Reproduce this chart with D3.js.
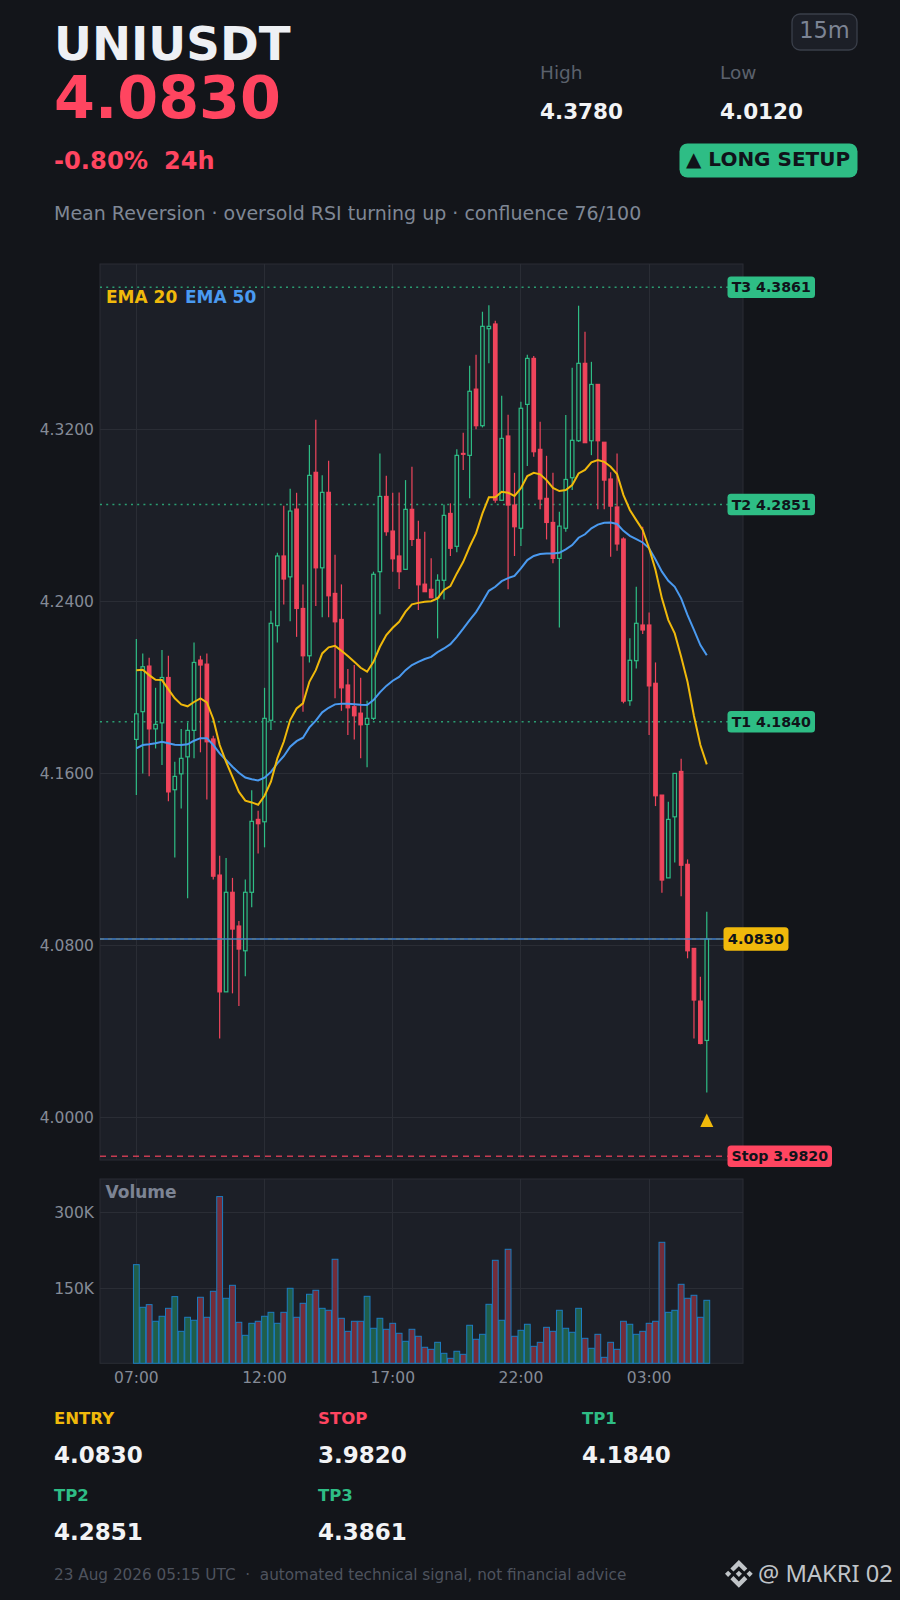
<!DOCTYPE html>
<html lang="en">
<head>
<meta charset="utf-8">
<title>UNIUSDT 15m</title>
<script src="https://cdn.jsdelivr.net/npm/d3@7/dist/d3.min.js"></script>
<style>
  html, body { margin: 0; padding: 0; background: #13151a; overflow: hidden; }
  svg { display: block; }
  text { font-family: "DejaVu Sans", sans-serif; }
  .axis .domain { display: none; }
  .axis line { stroke: #2a2d35; stroke-width: 1; shape-rendering: crispEdges; }
  .axis text { fill: #858b97; font-size: 15.5px; font-family: "DejaVu Sans", sans-serif; }
</style>
</head>
<body>
<svg id="chart" width="900" height="1600"></svg>
<script>
var open = [4.1758,4.1887,4.2099,4.1807,4.1835,4.2046,4.1524,4.1598,4.1677,4.1800,
  4.2127,4.2108,4.1760,4.1127,4.0584,4.1047,4.0890,4.0775,4.1047,4.1386,
  4.1375,4.1847,4.2287,4.2611,4.2514,4.2829,4.2367,4.2147,4.3000,4.2556,
  4.2907,4.2437,4.2316,4.2011,4.1910,4.1880,4.1828,4.1856,4.2538,4.2888,
  4.2727,4.2611,4.2549,4.2828,4.2688,4.2480,4.2456,4.2417,4.2498,4.2809,
  4.2656,4.3088,4.3079,4.3387,4.3217,4.3668,4.3690,4.2870,4.3169,4.2848,
  4.2740,4.3316,4.3530,4.3107,4.2879,4.2767,4.2600,4.2740,4.2975,4.3147,
  4.3507,4.3147,4.3409,4.3140,4.2969,4.2839,4.2690,4.1938,4.2124,4.2290,
  4.2290,4.2019,4.1499,4.1114,4.1398,4.1609,4.1177,4.0786,4.0541,4.0358];
var high = [4.2225,4.2158,4.2138,4.1998,4.2174,4.2147,4.1654,4.1807,4.1837,4.2209,
  4.2147,4.2158,4.1775,4.1217,4.1207,4.1114,4.0914,4.1107,4.1522,4.1426,
  4.1998,4.2356,4.2626,4.2845,4.2924,4.2905,4.2479,4.3127,4.3245,4.2986,
  4.3054,4.2617,4.2479,4.2085,4.2104,4.2045,4.1938,4.2538,4.3088,4.2984,
  4.2905,4.2906,4.2964,4.3026,4.2775,4.2724,4.2600,4.2526,4.2851,4.2856,
  4.3107,4.3184,4.3496,4.3547,4.3747,4.3777,4.3705,4.3356,4.3268,4.2998,
  4.3328,4.3547,4.3541,4.3235,4.3077,4.2998,4.2817,4.3267,4.3487,4.3775,
  4.3654,4.3514,4.3409,4.3140,4.3000,4.3088,4.2698,4.2228,4.2468,4.2747,
  4.2348,4.2116,4.1499,4.1468,4.1600,4.1668,4.1200,4.0786,4.0654,4.0956];
var low = [4.1499,4.1600,4.1587,4.1716,4.1639,4.1470,4.1209,4.1437,4.1019,4.1670,
  4.1698,4.1479,4.1107,4.0367,4.0584,4.0577,4.0518,4.0657,4.0977,4.1228,
  4.1256,4.1802,4.2209,4.2386,4.2308,4.2235,4.1887,4.2116,4.2378,4.2326,
  4.2326,4.1949,4.1891,4.1778,4.1758,4.1670,4.1628,4.1848,4.2340,4.2705,
  4.2538,4.2457,4.2549,4.2657,4.2360,4.2445,4.2414,4.2228,4.2409,4.2611,
  4.2628,4.3011,4.2879,4.3200,4.3209,4.3507,4.2859,4.2870,4.2456,4.2611,
  4.2657,4.3029,4.3073,4.2828,4.2688,4.2577,4.2279,4.2724,4.2918,4.3142,
  4.3138,4.3080,4.2828,4.2828,4.2607,4.2635,4.1926,4.1914,4.2088,4.2248,
  4.1778,4.1448,4.1045,4.1114,4.1186,4.1029,4.0740,4.0367,4.0340,4.0116];
var close = [4.1877,4.2096,4.1807,4.1828,4.2046,4.1514,4.1586,4.1670,4.1800,4.2116,
  4.2104,4.1747,4.1122,4.0584,4.1047,4.0876,4.0783,4.1047,4.1377,4.1366,
  4.1856,4.2298,4.2611,4.2504,4.2820,4.2367,4.2147,4.2986,4.2556,4.2907,
  4.2426,4.2305,4.1998,4.1905,4.1868,4.1826,4.1856,4.2526,4.2888,4.2724,
  4.2598,4.2538,4.2828,4.2688,4.2477,4.2445,4.2417,4.2498,4.2800,4.2647,
  4.3079,4.3084,4.3377,4.3217,4.3679,4.3679,4.2871,4.3158,4.2848,4.2747,
  4.3298,4.3530,4.3096,4.2876,4.2767,4.2600,4.2750,4.2967,4.3149,4.3507,
  4.3138,4.3409,4.3147,4.2964,4.2843,4.2667,4.1936,4.2126,4.2298,4.2267,
  4.2007,4.1496,4.1104,4.1386,4.1600,4.1173,4.0775,4.0546,4.0344,4.0830];
var ema20 = [4.2080,4.2082,4.2057,4.2035,4.2034,4.1991,4.1949,4.1921,4.1912,4.1932,
  4.1949,4.1930,4.1853,4.1732,4.1654,4.1584,4.1514,4.1473,4.1465,4.1454,
  4.1496,4.1561,4.1670,4.1747,4.1848,4.1902,4.1926,4.2026,4.2080,4.2158,
  4.2186,4.2193,4.2170,4.2146,4.2119,4.2091,4.2073,4.2119,4.2189,4.2243,
  4.2277,4.2305,4.2352,4.2386,4.2393,4.2398,4.2401,4.2414,4.2453,4.2471,
  4.2530,4.2584,4.2654,4.2716,4.2809,4.2884,4.2884,4.2910,4.2905,4.2890,
  4.2926,4.2983,4.2998,4.2991,4.2964,4.2928,4.2913,4.2918,4.2941,4.2995,
  4.3011,4.3047,4.3057,4.3049,4.3026,4.2992,4.2894,4.2825,4.2778,4.2732,
  4.2647,4.2546,4.2414,4.2313,4.2251,4.2142,4.2025,4.1867,4.1732,4.1642];
var ema50 = [4.1716,4.1732,4.1735,4.1740,4.1747,4.1740,4.1733,4.1732,4.1735,4.1752,
  4.1764,4.1764,4.1732,4.1693,4.1662,4.1631,4.1603,4.1581,4.1573,4.1567,
  4.1580,4.1607,4.1647,4.1680,4.1724,4.1750,4.1766,4.1814,4.1845,4.1884,
  4.1905,4.1921,4.1924,4.1924,4.1922,4.1919,4.1918,4.1941,4.1977,4.2007,
  4.2031,4.2049,4.2080,4.2104,4.2119,4.2132,4.2142,4.2164,4.2181,4.2201,
  4.2235,4.2273,4.2313,4.2350,4.2398,4.2449,4.2468,4.2494,4.2508,4.2518,
  4.2553,4.2592,4.2611,4.2620,4.2623,4.2623,4.2626,4.2642,4.2662,4.2696,
  4.2712,4.2740,4.2757,4.2766,4.2767,4.2760,4.2728,4.2705,4.2690,4.2674,
  4.2647,4.2595,4.2538,4.2496,4.2468,4.2414,4.2336,4.2267,4.2197,4.2149];
var volume = [196700,112500,117800,84900,94800,110500,133600,65100,92800,86900,
  132300,92800,144100,331000,130300,155900,82900,57200,80900,84900,
  94800,102600,80900,102600,150000,92800,120400,138200,146100,110500,
  106600,207300,90800,65100,84900,84900,134200,71100,90800,69100,
  80900,61200,45400,69100,55300,33600,29600,43400,21700,11800,
  25700,19700,77000,49400,59200,118400,205300,86900,227000,55300,
  67100,79000,35500,43400,73000,65100,106600,71100,63200,110500,
  51300,31600,59200,13800,43400,29600,84900,79000,59200,65100,
  80900,84900,240800,102600,106600,157900,130300,136200,92800,126300];

var priceTicks = [4.0, 4.08, 4.16, 4.24, 4.32];
var volumeTicks = [150000, 300000];
var timeTickIndex = [0, 20, 40, 60, 80];
var timeTickLabels = ["07:00", "12:00", "17:00", "22:00", "03:00"];

var targetNames = ["T1", "T2", "T3"];
var targetPrices = [4.1840, 4.2851, 4.3861];
var entryPrice = 4.0830;
var stopPrice = 3.9820;
var signalIndex = 89;
var signalPrice = 3.9987;

var statNames = ["ENTRY", "STOP", "TP1", "TP2", "TP3"];
var statValues = ["4.0830", "3.9820", "4.1840", "4.2851", "4.3861"];

var GREEN = "#2ebd85", RED = "#ff4560", CANDLE_RED = "#f0455c", YELLOW = "#f0b90b", BLUE = "#4a9af0";
var PANEL = "#1c1f27", BORDER = "#2a2d35", DARK = "#10131a";

var svg = d3.select("#chart");
svg.append("rect").attr("width", 900).attr("height", 1600).attr("fill", "#13151a");

var left = 100, right = 743, top1 = 264, bot1 = 1160, top2 = 1179, bot2 = 1363.3;

var x = d3.scaleLinear().domain([-5.67, 94.65]).range([left, right]);
var y = d3.scaleLinear().domain([3.9802, 4.3969]).range([bot1, top1]);
var yVol = d3.scaleLinear().domain([0, 300000]).range([1364.3, 1212.3]);

function label(sel, px, py, str, size, color, weight) {
  return sel.append("text").attr("x", px).attr("y", py).text(str)
    .attr("font-size", size).attr("fill", color).attr("font-weight", weight || "normal");
}

// header
label(svg, 54, 60, "UNIUSDT", 46.7, "#eef0f4", "bold");
label(svg, 54, 117.5, "4.0830", 58.8, RED, "bold");
label(svg, 54, 169, "-0.80%", 24.2, RED, "bold");
label(svg, 164, 169, "24h", 24, RED, "bold");
label(svg, 54, 220, "Mean Reversion · oversold RSI turning up · confluence 76/100", 19, "#7f8795");
label(svg, 540, 79, "High", 18.5, "#5b616c");
label(svg, 720, 79, "Low", 18.5, "#5b616c");
label(svg, 540, 119, "4.3780", 21.5, "#f2f3f5", "bold");
label(svg, 720, 119, "4.0120", 21.5, "#f2f3f5", "bold");

svg.append("rect").attr("x", 792).attr("y", 14).attr("width", 65).attr("height", 36).attr("rx", 8)
  .attr("fill", PANEL).attr("stroke", "#3a3f4a").attr("stroke-width", 1.3);
label(svg, 824.5, 38, "15m", 22.5, "#7c8494").attr("text-anchor", "middle");

svg.append("rect").attr("x", 679.5).attr("y", 143.5).attr("width", 178).attr("height", 34).attr("rx", 8).attr("fill", GREEN);
label(svg, 686, 165.5, "▲ LONG SETUP", 20, DARK, "bold");

// panels
[[top1, bot1], [top2, bot2]].forEach(function(p) {
  svg.append("rect").attr("x", left).attr("y", p[0]).attr("width", right - left).attr("height", p[1] - p[0])
    .attr("fill", PANEL).attr("stroke", BORDER).attr("stroke-width", 1);
});

svg.append("g").attr("class", "axis").attr("transform", "translate(0," + bot1 + ")")
  .call(d3.axisBottom(x).offset(0).tickValues(timeTickIndex).tickSize(-(bot1 - top1)).tickFormat(""));
svg.append("g").attr("class", "axis").attr("transform", "translate(" + left + ",0)")
  .call(d3.axisLeft(y).offset(0).tickValues(priceTicks).tickSize(-(right - left)).tickPadding(6).tickFormat(d3.format(".4f")))
  .selectAll("text").attr("dy", "0.38em");

svg.append("g").attr("class", "axis").attr("transform", "translate(0," + bot2 + ")")
  .call(d3.axisBottom(x).offset(0).tickValues(timeTickIndex).tickSize(-(bot2 - top2)).tickPadding(9)
    .tickFormat(function(d, i) { return timeTickLabels[i]; }));
svg.append("g").attr("class", "axis").attr("transform", "translate(" + left + ",0)")
  .call(d3.axisLeft(yVol).offset(0).tickValues(volumeTicks).tickSize(-(right - left)).tickPadding(6)
    .tickFormat(function(d) { return (d / 1000) + "K"; }))
  .selectAll("text").attr("dy", "0.38em");

label(svg, 106, 303, "EMA 20", 17, YELLOW, "bold");
label(svg, 185, 303, "EMA 50", 17, BLUE, "bold");
label(svg, 105.5, 1198, "Volume", 17, "#7c8494", "bold");

// level lines
svg.selectAll(".target").data(targetPrices).enter().append("line")
  .attr("class", "target")
  .attr("x1", left).attr("x2", 728)
  .attr("y1", function(d) { return y(d); }).attr("y2", function(d) { return y(d); })
  .attr("stroke", GREEN).attr("stroke-opacity", 0.8).attr("stroke-width", 1.5).attr("stroke-dasharray", "2 4.2");

svg.append("line").attr("x1", left).attr("x2", 728).attr("y1", y(stopPrice)).attr("y2", y(stopPrice))
  .attr("stroke", RED).attr("stroke-opacity", 0.75).attr("stroke-width", 1.5).attr("stroke-dasharray", "6 5");

// candles
var idx = d3.range(close.length);
var candles = svg.append("g");
candles.selectAll(".wick").data(idx).enter().append("line")
  .attr("x1", function(i) { return x(i); }).attr("x2", function(i) { return x(i); })
  .attr("y1", function(i) { return y(high[i]); }).attr("y2", function(i) { return y(low[i]); })
  .attr("stroke", function(i) { return close[i] >= open[i] ? GREEN : CANDLE_RED; })
  .attr("stroke-width", 1.2);
candles.selectAll(".body").data(idx).enter().append("rect")
  .attr("x", function(i) { return x(i) - 1.75; })
  .attr("width", 3.5)
  .attr("y", function(i) { return y(Math.max(open[i], close[i])); })
  .attr("height", function(i) { return Math.max(Math.abs(y(open[i]) - y(close[i])), 0.8); })
  .attr("fill", function(i) { return close[i] >= open[i] ? PANEL : CANDLE_RED; })
  .attr("stroke", function(i) { return close[i] >= open[i] ? GREEN : CANDLE_RED; })
  .attr("stroke-width", 1.2);

// ema lines
var line = d3.line().x(function(d, i) { return x(i); }).y(function(d) { return y(d); });
svg.append("path").datum(ema50).attr("d", line).attr("fill", "none").attr("stroke", BLUE).attr("stroke-width", 2);
svg.append("path").datum(ema20).attr("d", line).attr("fill", "none").attr("stroke", YELLOW).attr("stroke-width", 2);

// last price line
svg.append("line").attr("x1", left).attr("x2", 724).attr("y1", y(entryPrice)).attr("y2", y(entryPrice))
  .attr("stroke", "#3f80cc").attr("stroke-width", 1.5);
svg.append("line").attr("x1", left).attr("x2", 724).attr("y1", y(entryPrice)).attr("y2", y(entryPrice))
  .attr("stroke", YELLOW).attr("stroke-opacity", 0.18).attr("stroke-width", 1.5).attr("stroke-dasharray", "4 4");

// signal marker
svg.append("path").attr("d", "M0,-6.7L6.5,6.7L-6.5,6.7Z")
  .attr("transform", "translate(" + x(signalIndex) + "," + y(signalPrice) + ")").attr("fill", YELLOW);

// level tags
function tag(str, cy, x0, w, h, fill, size) {
  svg.append("rect").attr("x", x0).attr("y", cy - h / 2).attr("width", w).attr("height", h).attr("rx", 3.5).attr("fill", fill);
  svg.append("text").attr("x", x0 + w / 2).attr("y", cy + size * 0.36).attr("text-anchor", "middle").text(str)
    .attr("font-size", size).attr("font-weight", "bold").attr("fill", DARK);
}
targetPrices.forEach(function(p, i) {
  tag(targetNames[i] + " " + p.toFixed(4), y(p), 727.5, 87.5, 21.5, GREEN, 14.2);
});
tag("Stop " + stopPrice.toFixed(4), y(stopPrice), 727.5, 104.5, 21.5, RED, 14.2);
tag(entryPrice.toFixed(4), y(entryPrice), 723.5, 65, 23.5, YELLOW, 14.6);

// volume
svg.selectAll(".vol").data(idx).enter().append("rect")
  .attr("x", function(i) { return x(i) - 2.9; })
  .attr("width", 5.8)
  .attr("y", function(i) { return yVol(volume[i]); })
  .attr("height", function(i) { return bot2 - yVol(volume[i]); })
  .attr("fill", function(i) { return close[i] >= open[i] ? "#205e4a" : "#732d3a"; })
  .attr("stroke", "#1c7cc0").attr("stroke-width", 1);

// stat blocks
var statX = [54, 318, 582, 54, 318];
var statY = [1424, 1424, 1424, 1501, 1501];
var statColor = [YELLOW, RED, GREEN, GREEN, GREEN];
statNames.forEach(function(n, i) {
  label(svg, statX[i], statY[i], n, 16.5, statColor[i], "bold");
  label(svg, statX[i], statY[i] + 39, statValues[i], 23, "#f2f3f5", "bold");
});

// footer
label(svg, 54, 1580, "23 Aug 2026 05:15 UTC  ·  automated technical signal, not financial advice", 15.25, "#4e535e")
  .style("white-space", "pre");

var logo = svg.append("g").attr("transform", "translate(725,1560) scale(0.866)").attr("fill", "#c0c4c8");
["M9.8 13.4 16 7.2l6.2 6.2 3.6-3.6L16 0 6.2 9.8l3.6 3.6z",
 "M0 16l3.6-3.6L7.2 16l-3.6 3.6z",
 "M9.8 18.6 16 24.8l6.2-6.2 3.6 3.6L16 32 6.2 22.2l3.6-3.6z",
 "M24.8 16l3.6-3.6L32 16l-3.6 3.6z",
 "M19.6 16 16 12.4 12.4 16l3.6 3.6 3.6-3.6z"].forEach(function(d) {
  logo.append("path").attr("d", d);
});
label(svg, 758, 1582, "@ MAKRI 02", 23.7, "#c0c4c8").style("font-family", "'Noto Sans', sans-serif");
</script>
</body>
</html>
